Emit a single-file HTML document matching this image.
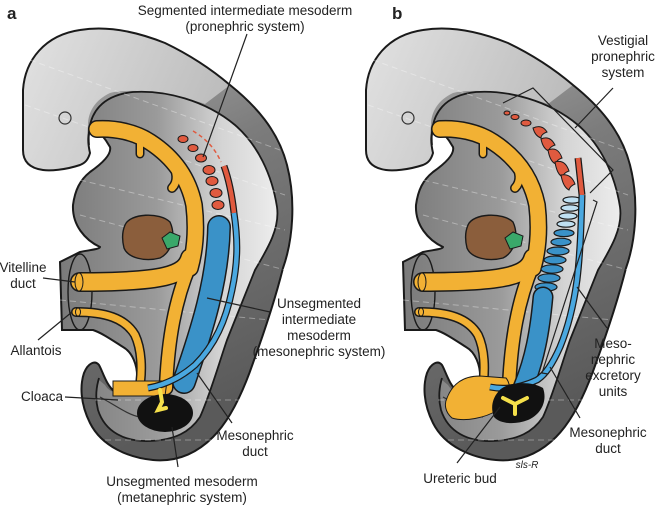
<!DOCTYPE html>
<html><head><meta charset="utf-8"><style>
html,body{margin:0;padding:0;background:#fff;}
svg{display:block;}
text{font-family:"Liberation Sans",Arial,sans-serif;font-size:13.5px;fill:#222;}
</style></head><body>
<svg width="655" height="505" viewBox="0 0 655 505" xmlns="http://www.w3.org/2000/svg">
<defs>
<linearGradient id="band" x1="0" y1="0" x2="0.3" y2="1">
<stop offset="0" stop-color="#b4b4b4"/><stop offset="0.45" stop-color="#7c7c7c"/><stop offset="1" stop-color="#5a5a5a"/>
</linearGradient>
<linearGradient id="head" x1="0" y1="0" x2="1" y2="0.3">
<stop offset="0" stop-color="#e2e2e2"/><stop offset="1" stop-color="#bdbdbd"/>
</linearGradient>
<linearGradient id="inner" x1="60" y1="0" x2="275" y2="0" gradientUnits="userSpaceOnUse">
<stop offset="0" stop-color="#7a7a7a"/><stop offset="0.45" stop-color="#9a9a9a"/><stop offset="0.75" stop-color="#d4d4d4"/><stop offset="1" stop-color="#ececec"/>
</linearGradient>
<path id="sil" d="M23,90 C25,60 45,35 80,30 C110,25 140,33 165,43 C190,55 210,68 230,85 C255,105 278,130 287,165 C296,200 293,240 283,268 C275,300 265,330 253,363 C243,392 230,420 213,437 C195,455 175,462 153,460 C130,458 102,447 90,423 C80,403 80,385 84,373 C88,363 95,360 99,365 C103,372 106,385 115,392 C125,393 135,388 137,380 C138,365 132,352 123,347 C112,340 102,333 93,330 L62,330 L60,262 L80,252 C90,250 100,249 100,247 C85,240 72,225 73,205 C75,190 80,180 90,172 C100,165 112,155 110,147 C105,138 98,130 93,127 C88,130 87,140 90,153 C88,160 85,163 80,165 C65,170 50,171 43,170 C28,168 23,160 23,150 Z"/>
<g id="body">
<use href="#sil" fill="url(#band)"/>
<path d="M23,90 C25,60 45,35 80,30 C110,25 140,33 165,43 C190,55 210,68 230,85 L205,104 C170,92 130,88 110,93 C95,100 88,112 88,125 C87,135 87,140 90,153 C88,160 85,163 80,165 C65,170 50,171 43,170 C28,168 23,160 23,150 Z" fill="url(#head)"/>
<path d="M93,127 C92,108 105,95 133,92 C165,90 205,100 235,125 C258,145 272,175 277,207 C280,228 268,248 255,270 C245,295 235,320 227,340 C220,360 210,395 200,417 C190,432 175,440 150,441 C125,442 105,432 98,410 C95,398 96,388 99,380 L105,385 C108,390 112,392 115,392 C125,393 135,388 137,380 C138,365 132,352 123,347 C112,340 102,333 93,330 L62,330 L60,262 L80,252 C90,250 100,249 100,247 C85,240 72,225 73,205 C75,190 80,180 90,172 C100,165 112,155 110,147 C105,138 98,130 93,127 Z" fill="url(#inner)"/>
<path d="M89,145 C86,110 105,95 133,92 C165,90 205,100 235,125 C258,145 272,175 277,207 C280,228 268,248 255,270 C245,295 235,320 227,340 C220,360 210,395 200,417 C190,432 175,440 150,441 C125,442 105,432 98,410 C95,398 96,388 99,378" fill="none" stroke="#1a1a1a" stroke-width="1.8"/>
<use href="#sil" fill="none" stroke="#1a1a1a" stroke-width="2"/>
<g stroke="#fff" stroke-opacity="0.35" stroke-width="1" stroke-dasharray="6 4">
<line x1="30" y1="60" x2="280" y2="150"/><line x1="25" y1="105" x2="285" y2="195"/><line x1="80" y1="180" x2="285" y2="230"/><line x1="80" y1="215" x2="285" y2="270"/><line x1="60" y1="300" x2="270" y2="320"/><line x1="95" y1="400" x2="250" y2="400"/><line x1="95" y1="440" x2="230" y2="440"/>
</g>
<circle cx="65" cy="118" r="6" fill="none" stroke="#333" stroke-width="1.2"/>
<ellipse cx="80" cy="292" rx="12" ry="38" fill="none" stroke="#1a1a1a" stroke-width="1.4"/>
<path d="M100,397 C115,405 128,415 140,417" fill="none" stroke="#333" stroke-width="1.2"/>
<g fill="none" stroke-linecap="round" stroke-linejoin="round">
<g stroke="#1a1a1a">
<path d="M97,129 C115,128 135,132 150,142 C170,155 188,175 194,205 C197,230 195,250 190,268" stroke-width="18"/>
<path d="M190,258 C185,275 165,282 80,282" stroke-width="20"/>
<path d="M190,265 C175,300 168,340 166,388" stroke-width="15"/>
<path d="M76,312 C105,312 125,318 135,335 C142,350 142,370 140,385" stroke-width="10"/>
<path d="M140,140 L140,154" stroke-width="9"/>
<path d="M170,160 C178,172 178,182 172,188" stroke-width="10"/>
</g>
<g stroke="#f2b134">
<path d="M97,129 C115,128 135,132 150,142 C170,155 188,175 194,205 C197,230 195,250 190,268" stroke-width="15"/>
<path d="M190,258 C185,275 165,282 80,282" stroke-width="17"/>
<path d="M190,265 C175,300 168,340 166,388" stroke-width="12"/>
<path d="M76,312 C105,312 125,318 135,335 C142,350 142,370 140,385" stroke-width="7"/>
<path d="M140,140 L140,154" stroke-width="6"/>
<path d="M170,160 C178,172 178,182 172,188" stroke-width="7"/>
</g>
</g>
<ellipse cx="79" cy="282" rx="4" ry="9" fill="#f2b134" stroke="#1a1a1a" stroke-width="1"/>
<ellipse cx="78" cy="312" rx="2.5" ry="4" fill="#f2b134" stroke="#1a1a1a" stroke-width="1"/>
<path d="M125,225 C130,213 160,212 170,222 C176,235 172,252 160,258 C145,262 128,258 124,248 C122,240 122,232 125,225Z" fill="#8b5e3c" stroke="#1a1a1a" stroke-width="1.4"/>
<path d="M162,238 L170,232 L180,236 L178,246 L167,249 Z" fill="#3aa86a" stroke="#1a1a1a" stroke-width="1"/>
</g>
</defs>

<!-- Embryo a -->
<use href="#body"/>
<path d="M113,381 L167,381 L165,396 L113,396 Z" fill="#f2b134" stroke="#1a1a1a" stroke-width="1"/>
<g stroke="#1a1a1a" stroke-width="1" fill="#e05a3f">
<ellipse cx="183" cy="139" rx="5" ry="3.5"/><ellipse cx="193" cy="148" rx="5" ry="3.5"/><ellipse cx="201" cy="158" rx="5.5" ry="4"/><ellipse cx="209" cy="170" rx="6" ry="4.5"/><ellipse cx="212" cy="181" rx="6" ry="4.5"/><ellipse cx="216" cy="193" rx="6" ry="4.5"/><ellipse cx="218" cy="205" rx="6" ry="4.5"/>
</g>
<path d="M193,131 C205,138 215,148 221,162" fill="none" stroke="#e05a3f" stroke-width="1.5" stroke-dasharray="4 3"/>
<path d="M224,166 C229,180 232,195 234,213" fill="none" stroke="#1a1a1a" stroke-width="7"/>
<path d="M224,166 C229,180 232,195 234,213" fill="none" stroke="#e05a3f" stroke-width="4.5"/>
<path d="M219,227 C218,280 202,330 184,382" fill="none" stroke="#1a1a1a" stroke-width="24" stroke-linecap="round"/>
<path d="M219,227 C218,280 202,330 184,382" fill="none" stroke="#3a92c8" stroke-width="21" stroke-linecap="round"/>
<path d="M234,213 C238,240 238,262 232,290 C226,320 215,345 195,365 C180,378 165,385 148,388" fill="none" stroke="#1a1a1a" stroke-width="7"/>
<path d="M234,213 C238,240 238,262 232,290 C226,320 215,345 195,365 C180,378 165,385 148,388" fill="none" stroke="#4aa8e0" stroke-width="4.5"/>
<ellipse cx="165" cy="413" rx="28" ry="19" fill="#111"/>
<path d="M160,390 L162,402 L158,410 L166,408" fill="none" stroke="#f5e04a" stroke-width="4" stroke-linecap="round"/>

<!-- Embryo b -->
<use href="#body" transform="translate(343,0)"/>
<path d="M447,398 C452,385 462,376 480,376 L506,378 C512,385 510,398 498,410 C485,418 465,422 452,418 C445,412 444,404 447,398Z" fill="#f2b134" stroke="#1a1a1a" stroke-width="1"/>
<g stroke="#1a1a1a" stroke-width="1" fill="#e05a3f">
<ellipse cx="507" cy="113" rx="3" ry="2"/><ellipse cx="515" cy="117" rx="4" ry="2.5"/><ellipse cx="526" cy="123" rx="5" ry="3"/>
<path d="M533,128 q9,-4 14,4 q-6,2 -6,6 q-6,-2 -8,-10z"/><path d="M541,139 q9,-4 14,6 q-6,2 -6,6 q-6,-2 -8,-12z"/>
<path d="M548,150 q10,-4 14,8 q-6,2 -6,6 q-6,-2 -8,-14z"/><path d="M555,162 q10,-3 14,9 q-6,2 -6,6 q-6,-2 -8,-15z"/>
<path d="M561,175 q10,-2 14,9 q-5,2 -6,6 q-6,-3 -8,-15z"/>
</g>
<path d="M578,158 L582,195" stroke="#1a1a1a" stroke-width="7"/><path d="M578,158 L582,195" stroke="#e05a3f" stroke-width="4.5"/>
<g stroke="#1a1a1a" stroke-width="1.2">
<ellipse cx="572" cy="200" rx="9" ry="3.2" fill="#bfe0f2"/><ellipse cx="570" cy="208" rx="9" ry="3.2" fill="#bfe0f2"/><ellipse cx="568" cy="216" rx="9" ry="3.2" fill="#bfe0f2"/><ellipse cx="566" cy="224" rx="9" ry="3.2" fill="#bfe0f2"/>
<ellipse cx="564" cy="233" rx="10" ry="3.6" fill="#3a92c8"/><ellipse cx="561" cy="242" rx="10" ry="3.8" fill="#3a92c8"/><ellipse cx="558" cy="251" rx="11" ry="4" fill="#3a92c8"/><ellipse cx="555" cy="260" rx="11" ry="4" fill="#3a92c8"/><ellipse cx="552" cy="269" rx="11" ry="4.2" fill="#3a92c8"/><ellipse cx="549" cy="278" rx="11" ry="4.2" fill="#3a92c8"/><ellipse cx="546" cy="287" rx="11" ry="4.2" fill="#3a92c8"/>
</g>
<path d="M543,297 C540,330 535,360 522,390" fill="none" stroke="#1a1a1a" stroke-width="21" stroke-linecap="round"/>
<path d="M543,297 C540,330 535,360 522,390" fill="none" stroke="#3a92c8" stroke-width="18" stroke-linecap="round"/>
<path d="M582,195 C581,230 580,255 577,280 C573,310 567,330 560,347 C552,365 545,375 537,380 C520,388 505,390 490,387" fill="none" stroke="#1a1a1a" stroke-width="7"/>
<path d="M582,195 C581,230 580,255 577,280 C573,310 567,330 560,347 C552,365 545,375 537,380 C520,388 505,390 490,387" fill="none" stroke="#4aa8e0" stroke-width="4.5"/>
<path d="M498,392 C505,382 530,380 543,388 C548,402 540,415 528,420 C515,425 500,424 494,417 C490,407 493,398 498,392Z" fill="#111"/>
<path d="M503,398 L515,404 L527,398 M515,404 L515,414" fill="none" stroke="#f5e04a" stroke-width="4" stroke-linecap="round"/>

<g stroke="#222" stroke-width="1.2" fill="none">
<line x1="247" y1="34" x2="203" y2="157"/>
<line x1="43" y1="278" x2="75" y2="282"/>
<line x1="38" y1="340" x2="72" y2="312"/>
<line x1="65" y1="397" x2="118" y2="400"/>
<line x1="207" y1="298" x2="270" y2="312"/>
<line x1="197" y1="373" x2="232" y2="423"/>
<line x1="172" y1="427" x2="178" y2="467"/>
<polyline points="503,103 533,88 613,170 590,193"/>
<polyline points="593,200 597,202 542,373 548,374"/>
<line x1="613" y1="88" x2="575" y2="128"/>
<line x1="577" y1="287" x2="607" y2="328"/>
<line x1="550" y1="367" x2="580" y2="418"/>
<line x1="457" y1="463" x2="500" y2="407"/>
</g>

<text x="7" y="19" style="font-weight:bold;font-size:17px">a</text>
<text x="392" y="19" style="font-weight:bold;font-size:17px">b</text>
<text x="245" y="15" text-anchor="middle">Segmented intermediate mesoderm</text>
<text x="245" y="31" text-anchor="middle">(pronephric system)</text>
<text x="23" y="272" text-anchor="middle">Vitelline</text>
<text x="23" y="288" text-anchor="middle">duct</text>
<text x="36" y="355" text-anchor="middle">Allantois</text>
<text x="42" y="401" text-anchor="middle">Cloaca</text>
<text x="319" y="308" text-anchor="middle">Unsegmented</text>
<text x="319" y="324" text-anchor="middle">intermediate</text>
<text x="319" y="340" text-anchor="middle">mesoderm</text>
<text x="319" y="356" text-anchor="middle">(mesonephric system)</text>
<text x="255" y="440" text-anchor="middle">Mesonephric</text>
<text x="255" y="456" text-anchor="middle">duct</text>
<text x="182" y="486" text-anchor="middle">Unsegmented mesoderm</text>
<text x="182" y="502" text-anchor="middle">(metanephric system)</text>
<text x="623" y="45" text-anchor="middle">Vestigial</text>
<text x="623" y="61" text-anchor="middle">pronephric</text>
<text x="623" y="77" text-anchor="middle">system</text>
<text x="613" y="348" text-anchor="middle">Meso-</text>
<text x="613" y="364" text-anchor="middle">nephric</text>
<text x="613" y="380" text-anchor="middle">excretory</text>
<text x="613" y="396" text-anchor="middle">units</text>
<text x="608" y="437" text-anchor="middle">Mesonephric</text>
<text x="608" y="453" text-anchor="middle">duct</text>
<text x="460" y="483" text-anchor="middle">Ureteric bud</text>
<text x="527" y="468" text-anchor="middle" style="font-size:10px;font-style:italic">sls-R</text>
</svg>
</body></html>
